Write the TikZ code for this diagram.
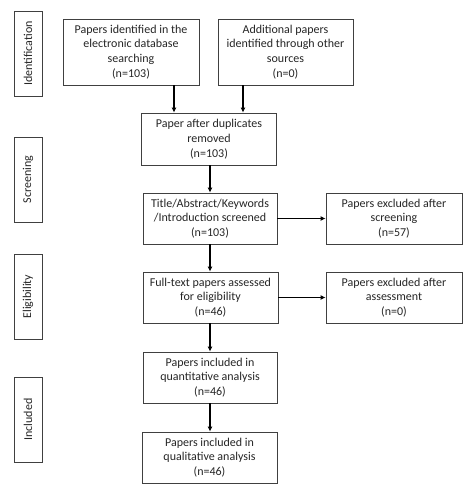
\documentclass[tikz,border=0pt]{standalone}
\usepackage{fontspec}
\setmainfont{Carlito}
\usetikzlibrary{arrows.meta}
\begin{document}
\begin{tikzpicture}[x=1pt,y=-1pt,
  box/.style={draw=black!75, line width=0.8pt, align=center, inner sep=0pt,
    font=\fontsize{12}{14.7}\selectfont, text=black!85},
  side/.style={draw=black!75, line width=0.8pt, minimum width=85pt, minimum height=28pt,
    inner sep=0pt, rotate=90, font=\fontsize{12}{14.7}\selectfont, text=black!85},
  arr/.style={-{Latex[length=5pt,width=5pt]}, line width=1.3pt, black}]
\useasboundingbox (0,0) rectangle (474,498);
\fill[white] (0,0) rectangle (474,498);

\node[side] (sid) at (28,53.5) {Identification};
\node[side] (ssc) at (28,179.5) {Screening};
\node[side] (sel) at (28,296.5) {Eligibility};
\node[side] (sin) at (28,419.5) {Included};

\node[box, minimum width=136pt, minimum height=66pt] (b1) at (131,52)
  {Papers identified in the\\electronic database\\searching\\(n=103)};
\node[box, minimum width=135pt, minimum height=66pt] (b2) at (285.5,52)
  {Additional papers\\identified through other\\sources\\(n=0)};
\node[box, minimum width=135pt, minimum height=52pt] (b3) at (209,139)
  {Paper after duplicates\\removed\\(n=103)};
\node[box, minimum width=134pt, minimum height=51pt] (b4) at (210,218.5)
  {Title/Abstract/Keywords\\/Introduction screened\\(n=103)};
\node[box, minimum width=136pt, minimum height=51pt] (e1) at (394,218.5)
  {Papers excluded after\\screening\\(n=57)};
\node[box, minimum width=135pt, minimum height=51pt] (b5) at (210.5,297.5)
  {Full-text papers assessed\\for eligibility\\(n=46)};
\node[box, minimum width=136pt, minimum height=51pt] (e2) at (394,297.5)
  {Papers excluded after\\assessment\\(n=0)};
\node[box, minimum width=134pt, minimum height=51pt] (b6) at (210,377.5)
  {Papers included in\\quantitative analysis\\(n=46)};
\node[box, minimum width=135pt, minimum height=51pt] (b7) at (209.5,457.5)
  {Papers included in\\qualitative analysis\\(n=46)};

\coordinate (a1) at (174,0);
\coordinate (a2) at (243,0);
\coordinate (a3) at (210,0);
\draw[arr] (b1.south -| a1) -- (b3.north -| a1);
\draw[arr] (b2.south -| a2) -- (b3.north -| a2);
\draw[arr] (b3.south -| a3) -- (b4.north -| a3);
\draw[arr] (b4.east) -- (e1.west);
\draw[arr] (b4.south -| a3) -- (b5.north -| a3);
\draw[arr] (b5.east) -- (e2.west);
\draw[arr] (b5.south -| a3) -- (b6.north -| a3);
\draw[arr] (b6.south -| a3) -- (b7.north -| a3);
\end{tikzpicture}
\end{document}
